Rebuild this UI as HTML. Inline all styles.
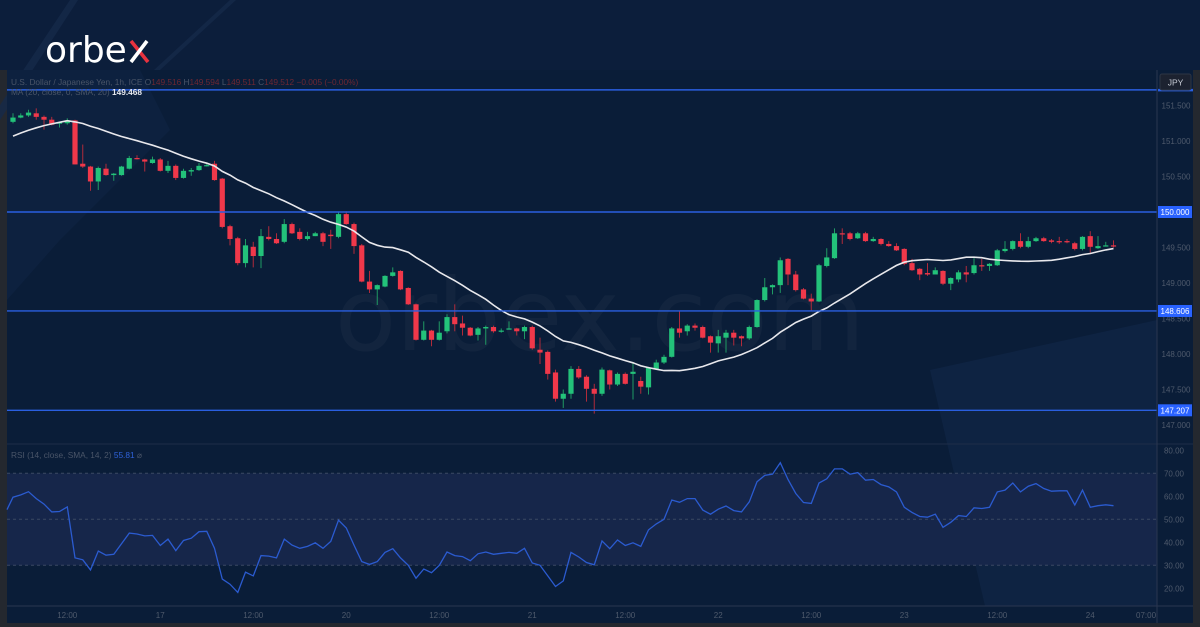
<!DOCTYPE html>
<html><head><meta charset="utf-8">
<style>
html,body{margin:0;padding:0;background:#24282f;width:1200px;height:627px;overflow:hidden}
svg{display:block;font-family:"Liberation Sans",sans-serif}
</style></head>
<body>
<svg id="chart" width="1200" height="627" viewBox="0 0 1200 627">
  <rect x="0" y="0" width="1200" height="627" fill="#24282f"/>
  <rect x="0" y="0" width="1200" height="70" fill="#0c1e3b"/>
  <polygon points="70,0 78,0 0,120 0,105" fill="#15294a" opacity="0.8"/>
  <polygon points="230,0 236,0 160,70 154,70" fill="#15294a" opacity="0.8"/>
  <g>
    <text x="45" y="62" font-size="36" fill="#ffffff" font-family="'DejaVu Sans','Liberation Sans',sans-serif">orbe</text>
    <line x1="131" y1="41" x2="148" y2="62" stroke="#e8323f" stroke-width="3.6"/>
    <line x1="147" y1="41" x2="131" y2="62" stroke="#ffffff" stroke-width="3.6"/>
  </g>
  <rect x="7" y="70" width="1186" height="553" fill="#0a1d38"/>
  <polygon points="7,70 140,70 170,130 60,240 7,300" fill="#102546" opacity="0.55"/>
  <polygon points="930,370 1157,320 1157,606 985,606" fill="#13284a" opacity="0.55"/>
  <text x="600" y="350" text-anchor="middle" font-size="100" fill="#ffffff" opacity="0.03" font-family="'DejaVu Sans',sans-serif">orbex.com</text>

  <g id="priceGrid"></g>
  <g id="candles"></g>
  <g id="maLine"></g>
  <g id="levels"></g>

  <line x1="7" y1="444" x2="1193" y2="444" stroke="#1d2d48" stroke-width="1"/>
  <g id="rsiPane"></g>

  <line x1="7" y1="606" x2="1193" y2="606" stroke="#2a3650" stroke-width="1"/>
  <line x1="1157" y1="70" x2="1157" y2="623" stroke="#2a3650" stroke-width="1"/>
  <g id="priceAxis"></g>
  <g id="rsiAxis"></g>
  <g id="timeAxis"></g>

  <g>
    <rect x="1160" y="74" width="31" height="16" rx="2" fill="#1c2230" stroke="#2d3545"/>
    <text x="1175.5" y="85.5" text-anchor="middle" font-size="8.5" fill="#c8ccd6">JPY</text>
  </g>

  <g>
    <text x="11" y="85" font-size="8.3" fill="#4a5568">U.S. Dollar / Japanese Yen, 1h, ICE  O<tspan fill="#6e2732">149.516</tspan>  H<tspan fill="#6e2732">149.594</tspan>  L<tspan fill="#6e2732">149.511</tspan>  C<tspan fill="#6e2732">149.512</tspan>  <tspan fill="#6e2732">−0.005 (−0.00%)</tspan></text>
    <text x="11" y="95" font-size="8.3" fill="#4a5568">MA (20, close, 0, SMA, 20)  <tspan fill="#e8eaf0" font-weight="bold">149.468</tspan></text>
    <text x="11" y="458" font-size="8.3" fill="#4a5568">RSI (14, close, SMA, 14, 2)  <tspan fill="#2f62d8">55.81</tspan>  ⌀</text>
  </g>
</svg>
<script>
const opens=[151.27,151.33,151.36,151.39,151.34,151.30,151.25,151.25,151.29,150.68,150.64,150.43,150.61,150.52,150.52,150.61,150.76,150.74,150.69,150.74,150.58,150.65,150.48,150.57,150.59,150.65,150.68,150.47,149.80,149.63,149.28,149.51,149.38,149.65,149.62,149.58,149.83,149.72,149.62,149.66,149.70,149.68,149.65,149.97,149.83,149.53,149.02,148.91,148.95,149.10,149.17,148.93,148.70,148.20,148.33,148.20,148.32,148.52,148.43,148.37,148.27,148.36,148.38,148.32,148.35,148.36,148.32,148.38,148.06,148.03,147.74,147.37,147.44,147.79,147.68,147.51,147.44,147.77,147.57,147.72,147.72,147.62,147.53,147.79,147.88,147.96,148.36,148.32,148.40,148.38,148.25,148.15,148.23,148.30,148.25,148.22,148.38,148.76,148.94,148.97,149.34,149.12,148.91,148.78,148.74,149.24,149.35,149.70,149.70,149.63,149.70,149.59,149.62,149.55,149.52,149.48,149.28,149.20,149.14,149.12,149.17,148.99,149.05,149.15,149.14,149.25,149.24,149.25,149.45,149.48,149.59,149.51,149.59,149.63,149.60,149.59,149.59,149.56,149.48,149.66,149.49,149.52,149.53];
const closes=[151.33,151.36,151.40,151.34,151.30,151.23,151.26,151.29,150.67,150.64,150.43,150.62,150.52,150.54,150.64,150.76,150.75,150.71,150.74,150.58,150.65,150.48,150.58,150.59,150.65,150.66,150.45,149.79,149.62,149.28,149.53,149.38,149.66,149.62,149.56,149.83,149.70,149.62,149.66,149.70,149.58,149.66,149.97,149.83,149.52,149.02,148.91,148.97,149.10,149.15,148.91,148.70,148.20,148.33,148.20,148.30,148.52,148.42,148.37,148.26,148.36,148.38,148.32,148.33,148.36,148.32,148.38,148.08,148.02,147.72,147.37,147.44,147.79,147.67,147.51,147.44,147.78,147.57,147.72,147.58,147.75,147.54,147.81,147.88,147.96,148.36,148.30,148.40,148.37,148.23,148.16,148.25,148.30,148.23,148.22,148.38,148.76,148.94,148.97,149.32,149.12,148.90,148.78,148.74,149.25,149.36,149.70,149.69,149.62,149.70,149.59,149.62,149.55,149.52,149.46,149.27,149.18,149.12,149.12,149.18,148.99,149.07,149.15,149.12,149.25,149.24,149.27,149.46,149.48,149.59,149.51,149.59,149.63,149.59,149.58,149.58,149.58,149.48,149.65,149.51,149.52,149.53,149.52];
const highs=[151.39,151.39,151.44,151.46,151.36,151.34,151.27,151.32,151.30,150.95,150.65,150.64,150.68,150.55,150.65,150.79,150.80,150.75,150.78,150.76,150.72,150.67,150.61,150.62,150.69,150.69,150.72,150.48,149.82,149.65,149.62,149.58,149.76,149.80,149.70,149.90,149.85,149.77,149.72,149.72,149.72,149.75,150.00,150.01,149.85,149.55,149.17,148.98,149.11,149.22,149.18,148.94,148.71,148.46,148.34,148.46,148.56,148.70,148.54,148.38,148.38,148.40,148.40,148.36,148.46,148.37,148.40,148.40,148.23,148.05,147.78,147.50,147.83,147.83,147.70,147.58,147.81,147.78,147.74,147.74,147.88,147.68,147.82,147.92,147.99,148.38,148.60,148.42,148.43,148.40,148.26,148.34,148.34,148.34,148.26,148.40,148.77,149.07,148.98,149.36,149.35,149.17,148.93,148.85,149.27,149.49,149.77,149.77,149.72,149.72,149.72,149.65,149.63,149.59,149.56,149.49,149.34,149.21,149.28,149.22,149.18,149.08,149.18,149.24,149.35,149.34,149.28,149.48,149.59,149.60,149.70,149.65,149.65,149.65,149.62,149.65,149.62,149.58,149.66,149.73,149.66,149.58,149.60];
const lows=[151.25,151.32,151.34,151.30,151.16,151.22,151.19,151.23,150.67,150.62,150.30,150.31,150.51,150.44,150.51,150.60,150.74,150.57,150.68,150.57,150.55,150.45,150.47,150.51,150.58,150.64,150.44,149.77,149.53,149.25,149.22,149.22,149.21,149.60,149.55,149.56,149.69,149.60,149.60,149.66,149.52,149.48,149.63,149.82,149.41,149.01,148.86,148.69,148.94,149.09,148.90,148.69,148.19,148.19,148.11,148.19,148.29,148.32,148.26,148.25,148.19,148.13,148.30,148.30,148.35,148.26,148.21,148.06,147.86,147.64,147.33,147.24,147.37,147.65,147.33,147.16,147.41,147.50,147.55,147.57,147.36,147.44,147.43,147.78,147.86,147.95,148.23,148.26,148.33,148.22,148.02,148.02,148.02,148.12,148.11,148.20,148.37,148.74,148.84,148.86,148.97,148.88,148.77,148.60,148.73,149.22,149.34,149.55,149.60,149.62,149.58,149.58,149.53,149.51,149.45,149.25,149.17,149.04,149.10,149.13,148.97,148.90,149.01,149.01,149.12,149.17,149.17,149.24,149.43,149.46,149.49,149.49,149.58,149.58,149.56,149.55,149.56,149.46,149.46,149.42,149.48,149.52,149.50];
const priorCloses=[150.5,150.6,150.65,150.7,150.75,150.8,150.85,151.0,151.1,151.2,151.25,151.3,151.3,151.35,151.35,151.35,151.35,151.35,151.3];
const rsiValues=[59.6,60.6,62.0,59.0,56.6,53.2,53.4,55.4,33.2,32.4,28.0,36.2,34.4,34.8,39.4,44.0,43.6,42.8,43.0,38.6,41.4,36.4,40.8,41.8,44.6,44.8,37.4,24.0,21.8,18.2,27.0,25.4,34.2,34.0,33.2,41.4,38.8,37.4,38.2,39.8,37.4,40.4,49.6,46.2,38.8,31.6,30.4,31.6,35.6,37.2,33.2,30.0,24.4,28.4,26.8,30.0,35.8,34.2,33.8,32.0,35.0,35.8,34.8,35.2,35.6,35.2,37.4,31.0,30.0,25.4,20.8,23.2,35.6,33.6,31.2,30.2,40.6,37.2,41.0,38.6,39.8,38.2,45.4,48.0,50.0,58.4,57.4,59.0,59.0,54.0,52.2,54.4,55.8,53.8,53.2,57.6,66.3,69.1,69.6,74.6,67.3,61.2,57.3,56.9,65.8,67.6,71.9,71.9,69.6,70.3,67.0,67.3,65.1,64.1,61.9,55.2,53.0,51.2,50.9,52.2,46.5,48.7,51.6,51.2,55.0,54.7,55.2,61.9,62.7,65.8,61.9,64.4,65.5,63.4,62.2,62.4,62.4,56.2,62.7,55.2,55.9,56.3,55.9];
const priceTicks=[151.5,151.0,150.5,150.0,149.5,149.0,148.5,148.0,147.5,147.0];
const rsiTicks=[80,70,60,50,40,30,20];
const levelPrices=[151.72,150.0,148.606,147.207];
const levelLabels=["","150.000","148.606","147.207"];
const timeLabels=["12:00","17","12:00","20","12:00","21","12:00","22","12:00","23","12:00","24","07:00"];
const timeLabelIdx=[7,19,31,43,55,67,79,91,103,115,127,139,146.2];

const NS="http://www.w3.org/2000/svg";
const xOf=i=>13+7.75*i;
const yP=p=>212+(150-p)*71;
const yR=r=>519.3-(r-50)*2.3;
function mk(tag,attrs,parent){const e=document.createElementNS(NS,tag);for(const k in attrs)e.setAttribute(k,attrs[k]);parent.appendChild(e);return e;}

const cg=document.getElementById('candles');
for(let i=0;i<closes.length;i++){
  const up=closes[i]>=opens[i];
  const col=up?'#23c27a':'#f0384a';
  const g=mk('g',{},cg);
  
  
  const x=xOf(i);
  mk('line',{x1:x,x2:x,y1:yP(highs[i]),y2:yP(lows[i]),stroke:up?'#1f9a63':'#b02a3a','stroke-width':1},g);
  const yt=yP(Math.max(opens[i],closes[i])),yb=yP(Math.min(opens[i],closes[i]));
  mk('rect',{x:x-2.6,y:yt,width:5.2,height:Math.max(1.2,yb-yt),fill:col},g);
}
const all=priorCloses.concat(closes);
let pts=[];
for(let i=0;i<closes.length;i++){
  let s=0;for(let k=i;k<i+20;k++)s+=all[k];
  pts.push(xOf(i).toFixed(1)+','+yP(s/20).toFixed(1));
}
const ma=mk('polyline',{points:pts.join(' '),fill:'none',stroke:'#e8e8ec','stroke-width':1.6},document.getElementById('maLine'));



const lg=document.getElementById('levels');
const pa=document.getElementById('priceAxis');
levelPrices.forEach((p,k)=>{
  const y=yP(p);
  const l=mk('line',{x1:7,x2:1157,y1:y,y2:y,stroke:'#2a5fe0','stroke-width':1.4},lg);
  
  
});
priceTicks.forEach(p=>{
  const t=mk('text',{x:1176,y:yP(p)+3,'text-anchor':'middle','font-size':8,fill:'#4f5a6c'},pa);
  t.textContent=p.toFixed(3);
  
  
});
levelPrices.forEach((p,k)=>{
  const y=yP(p);
  if(!levelLabels[k]){mk('rect',{x:1158,y:y-1,width:35,height:2.5,fill:'#2a5fe0'},pa);return;}
  const b=mk('rect',{x:1158,y:y-6,width:34,height:12,fill:'#2962ff'},pa);
  
  
  const t=mk('text',{x:1175,y:y+3.2,'text-anchor':'middle','font-size':8,fill:'#ffffff'},pa);
  t.textContent=levelLabels[k];
});

const rg=document.getElementById('rsiPane');
mk('rect',{x:7,y:yR(70),width:1150,height:yR(30)-yR(70),fill:'#16264a'},rg);
[70,50,30].forEach(v=>{
  const l=mk('line',{x1:7,x2:1157,y1:yR(v),y2:yR(v),stroke:'#3a4862','stroke-width':1,'stroke-dasharray':'3,3'},rg);
  
  
});
const rp=rsiValues.map((v,i)=>xOf(i).toFixed(1)+','+yR(v).toFixed(1)).join(' ');
const rl=mk('polyline',{points:'7,'+yR(rsiValues[0]-5.4).toFixed(1)+' '+rp,fill:'none',stroke:'#2b5bd0','stroke-width':1.3},rg);


const ra=document.getElementById('rsiAxis');
rsiTicks.forEach(v=>{
  const t=mk('text',{x:1174,y:yR(v)+3,'text-anchor':'middle','font-size':8,fill:'#4f5a6c'},ra);
  t.textContent=v.toFixed(2);
  
  
});
const ta=document.getElementById('timeAxis');
timeLabels.forEach((s,k)=>{
  const t=mk('text',{x:xOf(timeLabelIdx[k]),y:618,'text-anchor':'middle','font-size':8,fill:'#4f5a6c'},ta);
  t.textContent=s;
  
  
});
</script>
</body></html>
